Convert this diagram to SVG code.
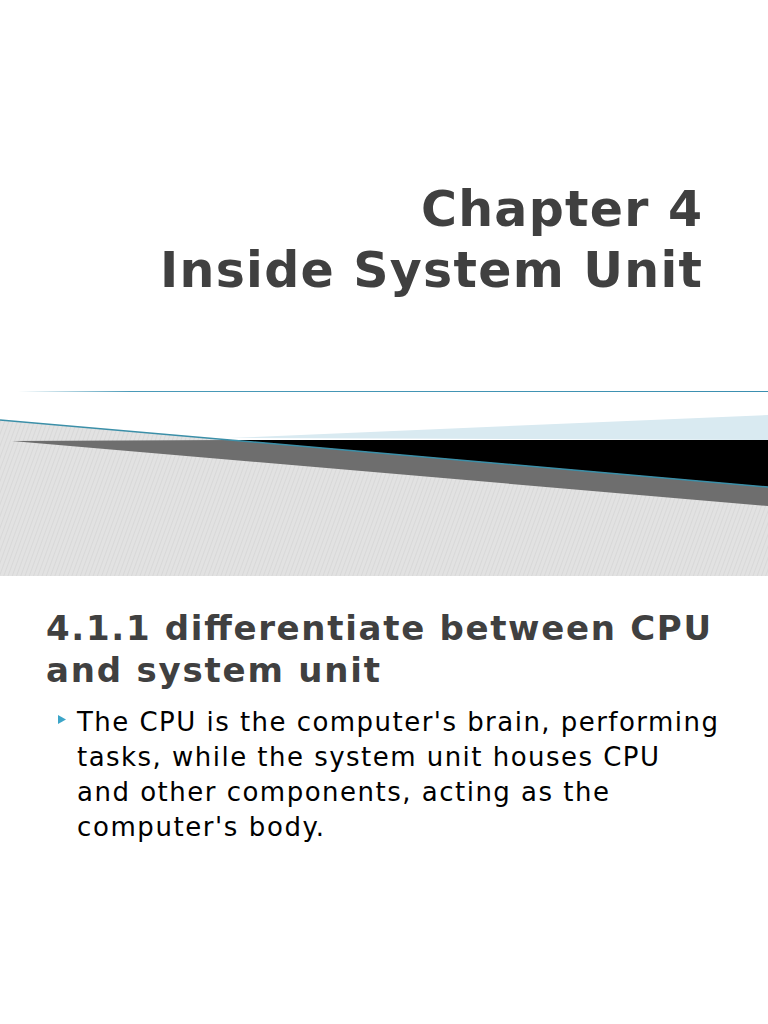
<svg xmlns="http://www.w3.org/2000/svg" width="768" height="1024" viewBox="0 0 768 1024">
<defs>
<pattern id="hatch" width="4" height="4" patternUnits="userSpaceOnUse" patternTransform="rotate(20)">
<rect width="4" height="4" fill="#e2e2e2"/><line x1="0" y1="0" x2="0" y2="4" stroke="#cfcfcf" stroke-width="1"/>
</pattern>
<linearGradient id="lg" gradientUnits="userSpaceOnUse" x1="18" y1="0" x2="768" y2="0"><stop offset="0" stop-color="#4a9ab8" stop-opacity="0"/><stop offset="0.15" stop-color="#4a9ab8"/><stop offset="1" stop-color="#3b8fb0"/></linearGradient>
<style>
.t{font-family:"DejaVu Sans",sans-serif;fill:#404040;font-weight:bold}
.b{font-family:"DejaVu Sans",sans-serif;fill:#000;font-size:26px}
</style>
</defs>
<rect width="768" height="1024" fill="#fff"/>
<text class="t" font-size="49" x="421" y="226" textLength="281">Chapter 4</text>
<text class="t" font-size="49" x="160" y="287" textLength="542">Inside System Unit</text>
<line x1="18" y1="391.5" x2="768" y2="391.5" stroke="url(#lg)" stroke-width="1.2"/>
<polygon points="0,420 230,440 768,487 768,576 0,576" fill="url(#hatch)"/>
<polygon points="230,438 768,415 768,440" fill="#d9eaf1"/>
<polygon points="230,440 768,440 768,487" fill="#000"/>
<polygon points="12,441 230,440 768,487 768,506" fill="#6e6e6e"/>
<polyline points="0,420 230,440 768,487" fill="none" stroke="#3b8fa8" stroke-width="1.5"/>
<text class="t" font-size="34" x="46" y="640" textLength="665">4.1.1 differentiate between CPU</text>
<text class="t" font-size="34" x="46" y="682" textLength="334">and system unit</text>
<polygon points="58,715 66,719.5 58,724" fill="#3ca5c8"/>
<text class="b" x="77" y="731" textLength="641">The CPU is the computer's brain, performing</text>
<text class="b" x="77" y="766" textLength="582">tasks, while the system unit houses CPU</text>
<text class="b" x="77" y="801" textLength="532">and other components, acting as the</text>
<text class="b" x="77" y="836" textLength="247">computer's body.</text>
</svg>
